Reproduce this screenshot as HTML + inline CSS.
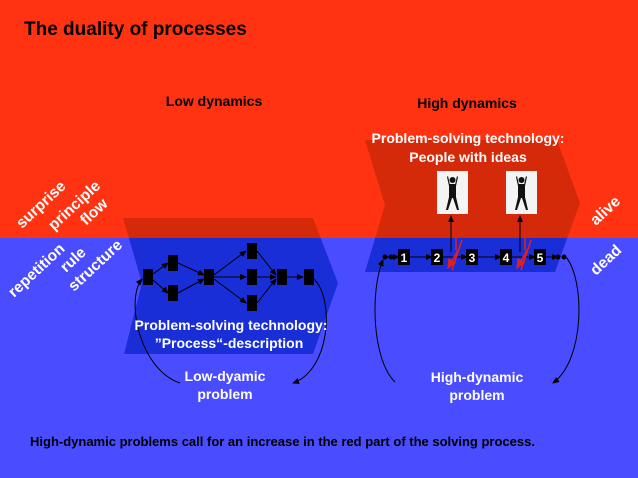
<!DOCTYPE html>
<html><head><style>
html,body{margin:0;padding:0;width:638px;height:478px;overflow:hidden;background:#4a4cff}
svg{display:block}
text{font-family:"Liberation Sans",sans-serif;font-weight:bold}
</style></head><body>
<svg width="638" height="478" viewBox="0 0 638 478" xmlns="http://www.w3.org/2000/svg">
<defs>
<marker id="a" markerWidth="8" markerHeight="8" refX="6" refY="3" orient="auto"><path d="M0,0 L7,3 L0,6 z" fill="#000"/></marker>
<marker id="r" markerWidth="8" markerHeight="8" refX="6" refY="3" orient="auto"><path d="M0,0 L7,3 L0,6 z" fill="#e02020"/></marker>
</defs>
<rect x="0" y="0" width="638" height="238" fill="#ff3311"/>
<rect x="0" y="238" width="638" height="240" fill="#4a4cff"/>
<clipPath id="top"><rect x="0" y="0" width="638" height="238"/></clipPath>
<clipPath id="bot"><rect x="0" y="238" width="638" height="240"/></clipPath>
<polygon points="123,218 313,218 338,283 313,354 124,354 142,283" fill="#d42a0a" clip-path="url(#top)"/>
<polygon points="123,218 313,218 338,283 313,354 124,354 142,283" fill="#1a2ed8" clip-path="url(#bot)"/>
<polygon points="365,140 557,140 580,203 555,272 365,272 385,205" fill="#d42a0a" clip-path="url(#top)"/>
<polygon points="365,140 557,140 580,203 555,272 365,272 385,205" fill="#1a2ed8" clip-path="url(#bot)"/>

<text x="24" y="35" font-size="19" fill="#000">The duality of processes</text>
<text x="214" y="106" font-size="14" fill="#000" text-anchor="middle">Low dynamics</text>
<text x="467" y="108" font-size="14" fill="#000" text-anchor="middle">High dynamics</text>
<text x="468" y="143" font-size="14" fill="#fff" text-anchor="middle">Problem-solving technology:</text>
<text x="468" y="162" font-size="14" fill="#fff" text-anchor="middle">People with ideas</text>

<g fill="#fff" font-size="15.5">
<text transform="translate(22,229) rotate(-43)">surprise</text>
<text transform="translate(54,231) rotate(-43)">principle</text>
<text transform="translate(86,226) rotate(-43)">flow</text>
<text transform="translate(14,298) rotate(-43)">repetition</text>
<text transform="translate(66,273) rotate(-43)">rule</text>
<text transform="translate(74,292) rotate(-43)">structure</text>
<text transform="translate(596,226) rotate(-43)">alive</text>
<text transform="translate(596,276) rotate(-43)">dead</text>
</g>

<g stroke="#000" stroke-width="1" fill="none">
<line x1="153" y1="274" x2="168" y2="263" marker-end="url(#a)"/>
<line x1="153" y1="280" x2="168" y2="293" marker-end="url(#a)"/>
<line x1="178" y1="263" x2="204" y2="275" marker-end="url(#a)"/>
<line x1="178" y1="293" x2="204" y2="279" marker-end="url(#a)"/>
<line x1="214" y1="275" x2="246" y2="251" marker-end="url(#a)"/>
<line x1="214" y1="277" x2="246" y2="277" marker-end="url(#a)"/>
<line x1="214" y1="279" x2="246" y2="303" marker-end="url(#a)"/>
<line x1="257" y1="251" x2="276" y2="275" marker-end="url(#a)"/>
<line x1="257" y1="277" x2="276" y2="277" marker-end="url(#a)"/>
<line x1="257" y1="303" x2="276" y2="279" marker-end="url(#a)"/>
<line x1="287" y1="277" x2="303" y2="277" marker-end="url(#a)"/>
<path d="M180,383 C140,370 125,300 142,279" marker-end="url(#a)"/>
<path d="M314,279 C335,300 330,370 293,383" marker-end="url(#a)"/>
<path d="M395,382 C372,360 370,290 383,260" marker-end="url(#a)"/>
<path d="M566,257 C585,280 585,360 553,383" marker-end="url(#a)"/>
<line x1="386" y1="257" x2="399" y2="257" marker-end="url(#a)"/>
<line x1="410" y1="257" x2="432" y2="257" marker-end="url(#a)"/>
<line x1="443" y1="257" x2="467" y2="257" marker-end="url(#a)"/>
<line x1="478" y1="257" x2="501" y2="257" marker-end="url(#a)"/>
<line x1="512" y1="257" x2="535" y2="257" marker-end="url(#a)"/>
<line x1="546" y1="257" x2="558" y2="257" marker-end="url(#a)"/>
</g>
<g fill="#000">
<rect x="143" y="269" width="10" height="16"/>
<rect x="168" y="255" width="10" height="16"/>
<rect x="168" y="285" width="10" height="16"/>
<rect x="204" y="269" width="10" height="16"/>
<rect x="247" y="243" width="10" height="16"/>
<rect x="247" y="269" width="10" height="16"/>
<rect x="247" y="295" width="10" height="16"/>
<rect x="277" y="269" width="10" height="16"/>
<rect x="304" y="269" width="10" height="16"/>
<circle cx="385" cy="257" r="2.5"/><circle cx="391" cy="257" r="2.5"/>
<circle cx="558" cy="257" r="2.5"/><circle cx="564" cy="257" r="2.5"/>
<rect x="398" y="249" width="12" height="16"/>
<rect x="431" y="249" width="12" height="16"/>
<rect x="466" y="249" width="12" height="16"/>
<rect x="500" y="249" width="12" height="16"/>
<rect x="534" y="249" width="12" height="16"/>
</g>
<g fill="#fff" font-size="12" font-weight="normal" text-anchor="middle">
<text x="404" y="262">1</text><text x="437" y="262">2</text><text x="472" y="262">3</text><text x="506" y="262">4</text><text x="540" y="262">5</text>
</g>
<rect x="437" y="171" width="31" height="43" fill="#f4f4f4"/>
<rect x="506" y="171" width="31" height="43" fill="#f4f4f4"/>
<g fill="#111">
<circle cx="452.5" cy="180" r="3"/><rect x="449" y="184" width="7" height="14"/>
<path d="M447,177 L449,186 L450,185 L448,176 Z M458,177 L456,186 L455,185 L457,176 Z"/>
<path d="M449,197 L446,210 L448,210 L452,198 Z M456,197 L459,210 L457,210 L453,198 Z"/>
<circle cx="521.5" cy="180" r="3"/><rect x="518" y="184" width="7" height="14"/>
<path d="M516,177 L518,186 L519,185 L517,176 Z M527,177 L525,186 L524,185 L526,176 Z"/>
<path d="M518,197 L515,210 L517,210 L521,198 Z M525,197 L528,210 L526,210 L522,198 Z"/>
</g>
<g stroke="#000" stroke-width="1">
<line x1="451" y1="252" x2="451" y2="216" marker-end="url(#a)"/>
<line x1="520" y1="252" x2="520" y2="216" marker-end="url(#a)"/>
</g>
<g stroke="#e02020" stroke-width="1.5" fill="none">
<line x1="456" y1="250" x2="456" y2="216"/>
<line x1="525" y1="250" x2="525" y2="216"/>
<path d="M462,240 L452,270 L458,250 L448,268" marker-end="url(#r)"/>
<path d="M531,240 L521,270 L527,250 L517,268" marker-end="url(#r)"/>
</g>

<text x="231" y="330" font-size="14" fill="#fff" text-anchor="middle">Problem-solving technology:</text>
<text x="229" y="348" font-size="14" fill="#fff" text-anchor="middle">”Process“-description</text>
<text x="225" y="381" font-size="14" fill="#fff" text-anchor="middle">Low-dyamic</text>
<text x="225" y="399" font-size="14" fill="#fff" text-anchor="middle">problem</text>
<text x="477" y="382" font-size="14" fill="#fff" text-anchor="middle">High-dynamic</text>
<text x="477" y="400" font-size="14" fill="#fff" text-anchor="middle">problem</text>
<text x="30" y="446" font-size="13" fill="#000">High-dynamic problems call for an increase in the red part of the solving process.</text>
</svg>
</body></html>
